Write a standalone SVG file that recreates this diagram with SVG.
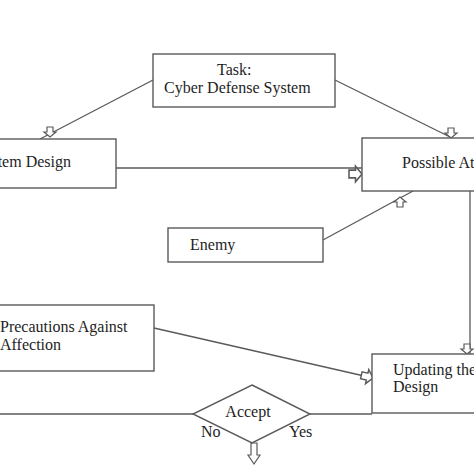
<svg xmlns="http://www.w3.org/2000/svg" xmlns:xlink="http://www.w3.org/1999/xlink" width="474" height="474" viewBox="0 0 474 474">
  <style>
    .box { fill: #ffffff; stroke: #5a5a5a; stroke-width: 1.4; }
    .conn { fill: none; stroke: #5a5a5a; stroke-width: 1.3; }
    .head { fill: #ffffff; stroke: #5a5a5a; stroke-width: 1.2; stroke-linejoin: miter; }
    .lbl { font-family: "Liberation Serif", "Times New Roman", serif; font-size: 16px; fill: #1e1e1e; }
  </style>
  <defs>
    <!-- hollow block arrowhead, pointing down, tip at origin -->
    <path id="ah" d="M-3,-10 H3 V-5 H6 L0,0 L-6,-5 H-3 Z"/>
    <!-- long-shaft variant used below the decision -->
    <path id="ahLong" d="M-3,-21 H3 V-9 H6 L0,0 L-6,-9 H-3 Z"/>
  </defs>
  <rect width="474" height="474" fill="#ffffff"/>

  <g id="connectors">
    <line class="conn" x1="153" y1="80" x2="40" y2="139"/>
    <line class="conn" x1="335" y1="80" x2="452" y2="138"/>
    <line class="conn" x1="116" y1="168" x2="362" y2="168"/>
    <line class="conn" x1="323" y1="240" x2="413" y2="191"/>
    <line class="conn" x1="470" y1="191" x2="470" y2="354"/>
    <line class="conn" x1="154" y1="328" x2="373" y2="378"/>
    <line class="conn" x1="0" y1="414" x2="193" y2="414"/>
    <line class="conn" x1="310" y1="414" x2="372" y2="414"/>
    <use href="#ah" class="head" transform="translate(50,137)"/>
    <use href="#ah" class="head" transform="translate(451,138)"/>
    <use href="#ah" class="head" transform="translate(362,174) rotate(-90) scale(1.3)"/>
    <use href="#ah" class="head" transform="translate(400,197) rotate(180)"/>
    <use href="#ah" class="head" transform="translate(467,354)"/>
    <use href="#ah" class="head" transform="translate(373,378) rotate(-77) scale(1.2)"/>
    <use href="#ahLong" class="head" transform="translate(254,464)"/>
  </g>

  <g id="task">
    <rect class="box" x="153" y="54" width="182" height="53"/>
    <text class="lbl" x="217" y="75">Task:</text>
    <text class="lbl" x="164" y="93">Cyber Defense System</text>
  </g>

  <g id="system-design">
    <rect class="box" x="-60" y="139" width="176" height="49"/>
    <text class="lbl" x="71" y="167" text-anchor="end">System Design</text>
  </g>

  <g id="possible-attack">
    <rect class="box" x="362" y="138" width="140" height="53"/>
    <text class="lbl" x="402" y="168">Possible Attack</text>
  </g>

  <g id="enemy">
    <rect class="box" x="168" y="228" width="155" height="34"/>
    <text class="lbl" x="190" y="250">Enemy</text>
  </g>

  <g id="precautions">
    <rect class="box" x="-60" y="305" width="214" height="66"/>
    <text class="lbl" x="0" y="332">Precautions Against</text>
    <text class="lbl" x="0" y="350">Affection</text>
  </g>

  <g id="updating">
    <rect class="box" x="372" y="354" width="130" height="59"/>
    <text class="lbl" x="393" y="375">Updating the</text>
    <text class="lbl" x="393" y="392">Design</text>
  </g>

  <g id="accept">
    <polygon class="box" points="252,385 310,414 252,443 193,414"/>
    <text class="lbl" x="248" y="417" text-anchor="middle">Accept</text>
    <text class="lbl" x="201" y="437">No</text>
    <text class="lbl" x="289" y="437">Yes</text>
  </g>
</svg>
